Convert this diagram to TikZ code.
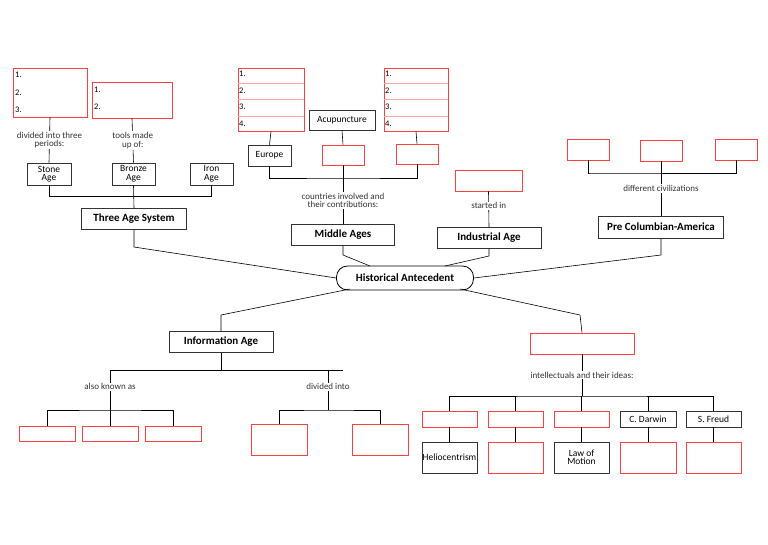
\documentclass[tikz,border=0pt]{standalone}
\usepackage{fontspec}
\setmainfont{Carlito}
\begin{document}
\begin{tikzpicture}[x=1pt,y=-1pt,
 bx/.style={draw=black!80,line width=0.8pt,fill=white,inner sep=0pt,align=center,font=\fontsize{9.5}{8.5}\selectfont},
 rb/.style={draw=red!75,line width=0.8pt,fill=white,inner sep=0pt},
 mb/.style={bx,font=\bfseries\fontsize{11}{12}\selectfont},
 lb/.style={font=\fontsize{9}{8.5}\selectfont,align=center,fill=white,inner sep=1pt,text=black!80},
 ln/.style={draw=black,line width=0.6pt},
 num/.style={font=\fontsize{8.5}{8}\selectfont,anchor=west,inner sep=1pt}]
\useasboundingbox (0,0) rectangle (768,544);
\def\R#1#2#3#4#5{\node[rb,minimum width=#3-#1,minimum height=#4-#2] (#5) at ({(#1+#3)/2},{(#2+#4)/2}) {};}
\def\B#1#2#3#4#5#6{\node[bx,minimum width=#3-#1,minimum height=#4-#2] (#5) at ({(#1+#3)/2},{(#2+#4)/2}) {#6};}
% central
\node[draw,rounded corners=11pt,line width=0.8pt,minimum width=137,minimum height=24,font=\bfseries\fontsize{11}{12}\selectfont] (hist) at (405,278) {Historical Antecedent};
% Three Age System
\node[mb,minimum width=105,minimum height=21] (tas) at (134,219) {Three Age System};
\B{27}{163}{71}{185}{stone}{Stone\\Age}
\B{112}{163}{155}{185}{bronze}{Bronze\\Age}
\B{190}{163}{233}{185}{iron}{Iron\\Age}
\R{13}{68}{87}{117}{slist}
\R{92}{82}{172}{118}{blist}
\node[num] (s1) at (14,75) {1.}; \node[num] (s2) at (14,93) {2.}; \node[num] (s3) at (14,110) {3.};
\node[num] (b1) at (93,90) {1.}; \node[num] (b2) at (93,107) {2.};
\draw[ln] (stone.south) |- (49,196) -| (iron.south);
\draw[ln] (bronze.south) -- (tas.north);
\draw[ln] (slist.south) -- (stone.north) node[lb,pos=0.5] (l1) {divided into three\\periods:};
\draw[ln] (blist.south) -- (bronze.north) node[lb,pos=0.5] (l2) {tools made\\up of:};
\draw[ln] (tas.south) -- (134,247) -- (hist.west);
% Middle Ages
\node[mb,minimum width=103,minimum height=21] (ma) at (343,235) {Middle Ages};
\B{248}{145}{291}{166}{eur}{Europe}
\B{309}{110}{375}{130}{acu}{Acupuncture}
\R{322}{145}{364}{165}{acr}
\R{396}{144}{438}{164}{rr}
\R{238}{68}{304}{131}{ml}
\R{384}{68}{448}{131}{mr}
\foreach \i/\y in {1/74,2/91,3/107,4/124}{
 \node[num] (ml\i) at (238,\y) {\i.}; \node[num] (mr\i) at (384,\y) {\i.};}
\foreach \y in {83,99,116}{\draw[red!35] (238,\y) -- (304,\y); \draw[red!35] (384,\y) -- (448,\y);}
\draw[ln] (ml.south) -- (eur.north);
\draw[ln] (acu.south) -- (acr.north);
\draw[ln] (mr.south) -- (rr.north);
\draw[ln] (eur.south) |- (343,178) -| (rr.south);
\draw[ln] (acr.south) -- (ma.north) node[lb,pos=0.6] (l3) {countries involved and\\their contributions:};
\draw[ln] (ma.south) -- (343,255) -- (370,266);
% Industrial
\node[mb,minimum width=104,minimum height=21] (ia) at (489,238) {Industrial Age};
\R{455}{170}{522}{191}{iar}
\draw[ln] (iar.south) -- (ia.north) node[lb,pos=0.4] (l4) {started in};
\draw[ln] (ia.south) -- (489,256) -- (445,266);
% Pre Columbian
\node[mb,minimum width=125,minimum height=22] (pc) at (661,227) {Pre Columbian-America};
\R{567}{139}{609}{160}{p1}
\R{640}{140}{682}{161}{p2}
\R{715}{139}{757}{160}{p3}
\draw[ln] (p1.south) |- (590,173) -| (p3.south);
\draw[ln] (p2.south) -- (pc.north) node[lb,pos=0.5] (l5) {different civilizations};
\draw[ln] (pc.south) -- (661,255) -- (hist.east);
% Information Age
\node[mb,minimum width=104,minimum height=21] (inf) at (221,342) {Information Age};
\draw[ln] (350,289) -- (221,315) -- (inf.north);
\draw[ln] (inf.south) -- (221,370);
\draw[ln] (110,370) -- (343,370);
\coordinate (ak) at (110,410); \coordinate (di) at (328,410);
\draw[ln] (110,370) -- (ak) node[lb,pos=0.42] (l6) {also known as};
\draw[ln] (328,370) -- (di) node[lb,pos=0.42] (l7) {divided into};
\R{19}{426}{75}{441}{a1}
\R{82}{426}{138}{441}{a2}
\R{145}{426}{201}{441}{a3}
\draw[ln] (a1.north) |- (ak) -| (a3.north); \draw[ln] (ak) -- (a2.north);
\R{251}{424}{307}{455}{d1}
\R{352}{424}{408}{455}{d2}
\draw[ln] (d1.north) |- (di) -| (d2.north);
% Right branch
\R{530}{333}{634}{354}{rev}
\draw[ln] (460,289) -- (580,315) -- (rev.north);
\coordinate (ib) at (582,396);
\draw[ln] (rev.south) -- (ib) node[lb,pos=0.5] (l8) {intellectuals and their ideas:};
\R{422}{411}{477}{427}{t1}
\R{488}{411}{543}{427}{t2}
\R{554}{411}{609}{427}{t3}
\B{620}{411}{676}{427}{t4}{C. Darwin}
\B{686}{411}{741}{427}{t5}{S. Freud}
\B{422}{442}{477}{473}{u1}{Heliocentrism}
\R{488}{442}{543}{473}{u2}
\B{554}{442}{609}{473}{u3}{Law of\\Motion}
\R{620}{442}{676}{473}{u4}
\R{686}{442}{741}{473}{u5}
\draw[ln] (t1.north) |- (ib) -| (t5.north);
\foreach \i in {2,3,4}{\draw[ln] (t\i.north) -- (t\i.north |- ib);}
\foreach \i in {1,...,5}{\draw[ln] (t\i.south) -- (u\i.north);}
\end{tikzpicture}
\end{document}
